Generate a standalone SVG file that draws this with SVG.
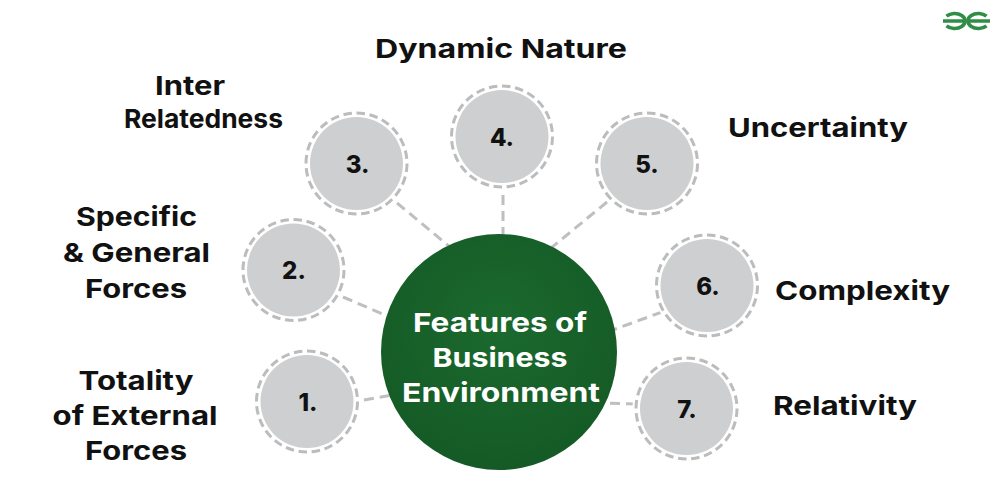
<svg xmlns="http://www.w3.org/2000/svg" width="1000" height="500" viewBox="0 0 1000 500">
  <defs>
    <radialGradient id="hub" cx="50%" cy="40%" r="60%">
      <stop offset="0" stop-color="#1b6a2e"/>
      <stop offset="1" stop-color="#155a26"/>
    </radialGradient>
    <style>
      .lbl{font-family:Inter,"Liberation Sans",sans-serif;font-weight:700;font-size:26px;fill:#111111}
      .num{font-family:Inter,"Liberation Sans",sans-serif;font-weight:800;font-size:24px;fill:#111111;text-anchor:middle}
      .hubt{font-family:Inter,"Liberation Sans",sans-serif;font-weight:700;font-size:26px;fill:#ffffff;text-anchor:middle}
      .mid{text-anchor:middle}
      .conn{stroke:#bfbfbf;stroke-width:3;stroke-dasharray:10 6;fill:none}
      .back{fill:#ffffff}
      .fillc{fill:#cdcfd0}
      .ring{fill:none;stroke:#bcbcbc;stroke-width:3;stroke-dasharray:8.5 4.7}
      .logo{fill:none;stroke:#2f8d46;stroke-width:3.6;stroke-linecap:butt}
    </style>
  </defs>
  <rect width="1000" height="500" fill="#ffffff"/>

  <g id="logo">
    <path class="logo" d="M946.5,16.2 A10.5,7.5 0 1 1 946.5,25.8 M943,21 H965"/>
    <path class="logo" d="M986.5,16.2 A10.5,7.5 0 1 0 986.5,25.8 M990,21 H968"/>
  </g>

  <g id="connectors">
    <line class="conn" x1="364" y1="400" x2="392" y2="395"/>
    <line class="conn" x1="343" y1="297" x2="392" y2="318"/>
    <line class="conn" x1="397" y1="203" x2="450" y2="247"/>
    <line class="conn" x1="503" y1="195" x2="503" y2="240"/>
    <line class="conn" x1="607" y1="202" x2="545" y2="253"/>
    <line class="conn" x1="662" y1="312" x2="610" y2="331"/>
    <line class="conn" x1="636" y1="404" x2="605" y2="403"/>
  </g>

  <g id="hub-node">
    <circle cx="499" cy="352" r="118" fill="url(#hub)"/>
    <text class="hubt" x="500" y="332" textLength="174" lengthAdjust="spacingAndGlyphs">Features of</text>
    <text class="hubt" x="500" y="367" textLength="135" lengthAdjust="spacingAndGlyphs">Business</text>
    <text class="hubt" x="501" y="402" textLength="198" lengthAdjust="spacingAndGlyphs">Environment</text>
  </g>

  <g id="node1">
    <circle class="back" cx="307" cy="401.5" r="54"/>
    <circle class="fillc" cx="307" cy="401.5" r="46.5"/>
    <circle class="ring" cx="307" cy="401.5" r="50.5"/>
    <text class="num" x="308" y="411">1.</text>
    <text class="lbl mid" x="136" y="390" textLength="115" lengthAdjust="spacingAndGlyphs">Totality</text>
    <text class="lbl mid" x="135" y="425" textLength="165" lengthAdjust="spacingAndGlyphs">of External</text>
    <text class="lbl mid" x="136" y="460" textLength="102" lengthAdjust="spacingAndGlyphs">Forces</text>
  </g>

  <g id="node2">
    <circle class="back" cx="293.5" cy="270" r="54"/>
    <circle class="fillc" cx="293.5" cy="270" r="46.5"/>
    <circle class="ring" cx="293.5" cy="270" r="50.5"/>
    <text class="num" x="294" y="279">2.</text>
    <text class="lbl mid" x="136.5" y="226" textLength="121" lengthAdjust="spacingAndGlyphs">Specific</text>
    <text class="lbl mid" x="136.5" y="262" textLength="147" lengthAdjust="spacingAndGlyphs">&amp; General</text>
    <text class="lbl mid" x="136" y="298" textLength="102" lengthAdjust="spacingAndGlyphs">Forces</text>
  </g>

  <g id="node3">
    <circle class="back" cx="356.5" cy="163.5" r="54"/>
    <circle class="fillc" cx="356.5" cy="163.5" r="46.5"/>
    <circle class="ring" cx="356.5" cy="163.5" r="50.5"/>
    <text class="num" x="357.5" y="172.5">3.</text>
    <text class="lbl" x="155" y="95" textLength="70" lengthAdjust="spacingAndGlyphs">Inter</text>
    <text class="lbl" x="124" y="128" textLength="159" lengthAdjust="spacingAndGlyphs">Relatedness</text>
  </g>

  <g id="node4">
    <circle class="back" cx="502" cy="136.5" r="54"/>
    <circle class="fillc" cx="502" cy="136.5" r="46.5"/>
    <circle class="ring" cx="502" cy="136.5" r="50.5"/>
    <text class="num" x="502" y="145.5">4.</text>
    <text class="lbl mid" x="501" y="58" textLength="252" lengthAdjust="spacingAndGlyphs">Dynamic Nature</text>
  </g>

  <g id="node5">
    <circle class="back" cx="647" cy="163.5" r="54"/>
    <circle class="fillc" cx="647" cy="163.5" r="46.5"/>
    <circle class="ring" cx="647" cy="163.5" r="50.5"/>
    <text class="num" x="647" y="172.5">5.</text>
    <text class="lbl" x="728" y="137" textLength="180" lengthAdjust="spacingAndGlyphs">Uncertainty</text>
  </g>

  <g id="node6">
    <circle class="back" cx="707" cy="285.5" r="54"/>
    <circle class="fillc" cx="707" cy="285.5" r="46.5"/>
    <circle class="ring" cx="707" cy="285.5" r="50.5"/>
    <text class="num" x="708" y="294.5">6.</text>
    <text class="lbl" x="775" y="300" textLength="175" lengthAdjust="spacingAndGlyphs">Complexity</text>
  </g>

  <g id="node7">
    <circle class="back" cx="686.5" cy="408.5" r="54"/>
    <circle class="fillc" cx="686.5" cy="408.5" r="46.5"/>
    <circle class="ring" cx="686.5" cy="408.5" r="50.5"/>
    <text class="num" x="687" y="417.5">7.</text>
    <text class="lbl" x="773" y="415" textLength="144" lengthAdjust="spacingAndGlyphs">Relativity</text>
  </g>
</svg>
